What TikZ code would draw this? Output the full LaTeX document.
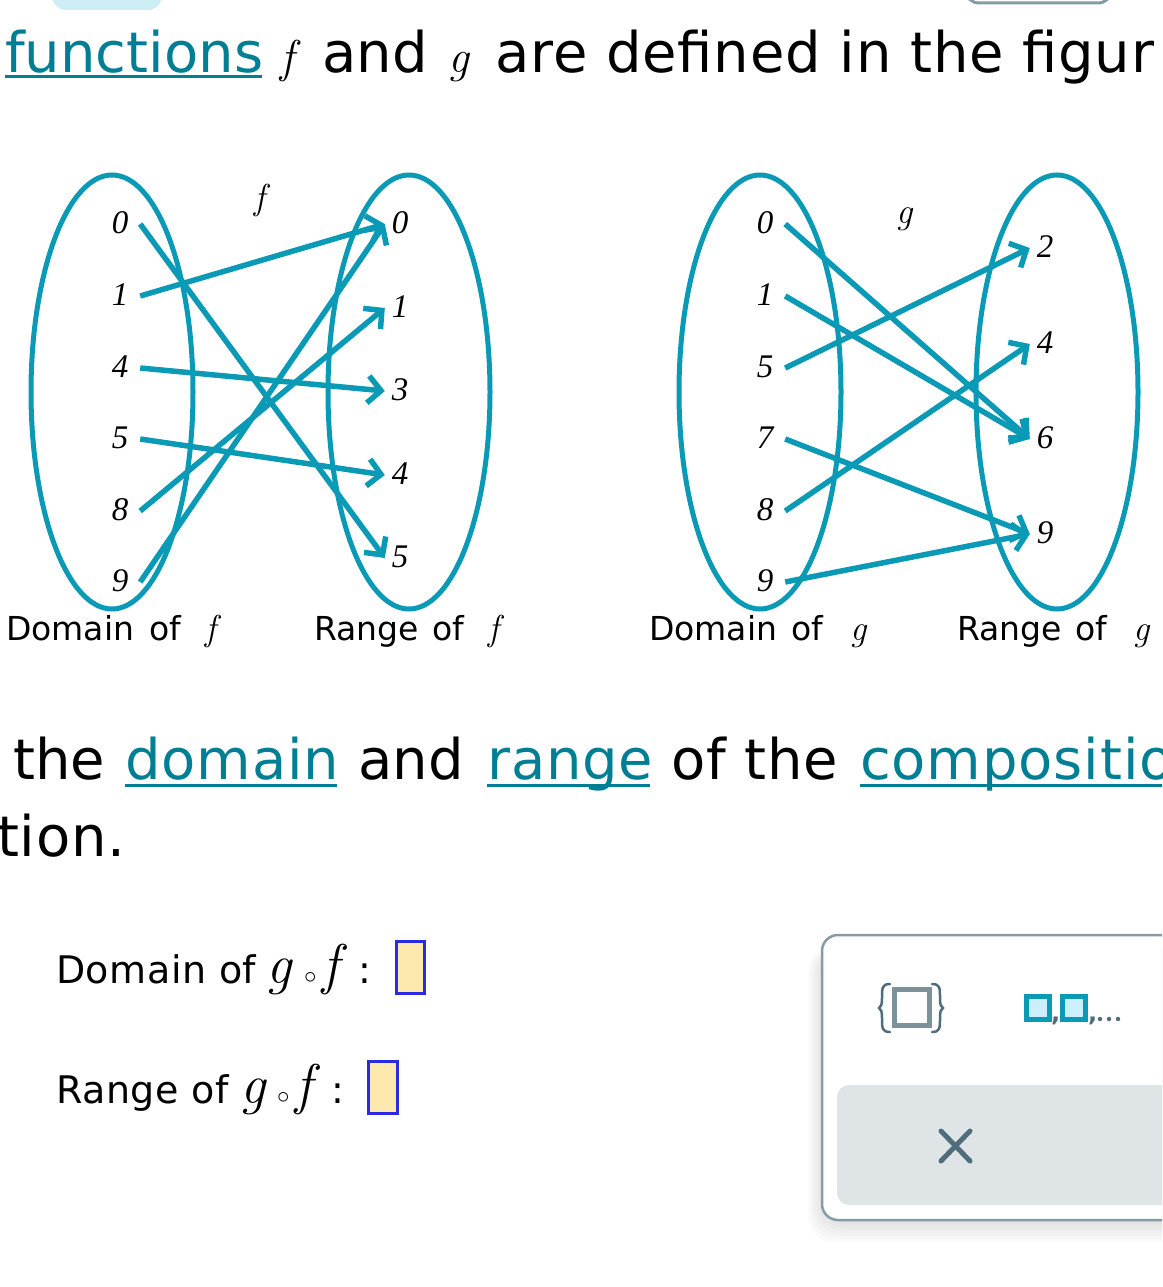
\documentclass[tikz,border=0pt]{standalone}
\usepackage{fontspec}
\usetikzlibrary{arrows.meta}
\setmainfont{DejaVu Sans}
\newfontfamily\myserif{Liberation Serif}
\newfontfamily\lmrm{Latin Modern Roman}
\newfontfamily\wider{DejaVu Sans}[LetterSpace=1.5]
\newcommand{\mi}[1]{{\myserif\itshape #1}}
\newcommand{\mv}[1]{{\lmrm\itshape #1}}
\definecolor{teal1}{HTML}{0A9AB5}
\definecolor{linkc}{HTML}{007F94}
\definecolor{panelc}{HTML}{869CA4}
\definecolor{iconc}{HTML}{4F6D7A}
\definecolor{answerfill}{HTML}{FDE8AE}
\definecolor{answerline}{HTML}{2A2AE0}
\definecolor{pillc}{HTML}{CDEEF4}
\tikzset{
 x=1pt,y=-1pt,
 big/.style={anchor=base west,inner sep=0pt,font=\fontsize{56}{60}\selectfont},
 bigw/.style={big,font=\fontsize{56}{60}\selectfont\wider},
 biglink/.style={big,text=linkc},
 biglinkw/.style={bigw,text=linkc},
 bigmath/.style={anchor=base west,inner sep=0pt,font=\fontsize{46}{50}\selectfont},
 small/.style={anchor=base west,inner sep=0pt,font=\fontsize{33}{36}\selectfont},
 smallm/.style={anchor=base west,inner sep=0pt,font=\fontsize{36}{40}\selectfont},
 mid/.style={anchor=base west,inner sep=0pt,font=\fontsize{38}{42}\selectfont\wider},
 midm/.style={anchor=base west,inner sep=0pt,font=\fontsize{56}{60}\selectfont},
 setring/.style={draw=teal1,line width=5pt},
 lab/.style={inner sep=0pt,font=\fontsize{33}{36}\selectfont,text height=22pt,text depth=4pt,align=center},
 fromlab/.style={lab,minimum width=40pt},
 tolab/.style={lab,minimum width=30pt},
 maparrow/.style={draw=teal1,line width=5.5pt,-{Straight Barb[length=13pt,width=27pt,line width=5.5pt]}},
 answer/.style={draw=answerline,fill=answerfill,line width=3pt},
}
\begin{document}
\begin{tikzpicture}
\useasboundingbox (0,0) rectangle (1162,1287);
\clip (0,0) rectangle (1162,1287);
% top strip
\fill[pillc,rounded corners=14pt] (52,-30) rectangle (162,10);
\draw[panelc,line width=3pt,rounded corners=14pt] (965,-30) rectangle (1112,3);
% first line
\node[biglink] (t1) at (5,73) {functions};
\draw[linkc,line width=3pt] (t1.base west)++(0,4) -- ++(257,0);
\node[bigmath] (t2) at (280,73) {\mv{f}};
\node[big] (t3) at (322,73) {and};
\node[bigmath] (t4) at (448,73) {\mv{g}};
\node[bigw] (t5) at (495,73) {are defined in the figur};
% rings
\draw[setring] (112,392) ellipse[x radius=81,y radius=217];
\draw[setring] (409,392) ellipse[x radius=81,y radius=217];
\draw[setring] (760,392) ellipse[x radius=81,y radius=217];
\draw[setring] (1057,392) ellipse[x radius=81,y radius=217];
% f
\node[fromlab] (fa) at (120,224) {\mi{0}};
\node[fromlab] (fb) at (120,296) {\mi{1}};
\node[fromlab] (fc) at (120,368) {\mi{4}};
\node[fromlab] (fd) at (120,439) {\mi{5}};
\node[fromlab] (fe) at (120,511) {\mi{8}};
\node[fromlab] (ff) at (120,582) {\mi{9}};
\node[tolab] (fp) at (400,224) {\mi{0}};
\node[tolab] (fq) at (400,308) {\mi{1}};
\node[tolab] (fr) at (400,391) {\mi{3}};
\node[tolab] (fs) at (400,475) {\mi{4}};
\node[tolab] (ft) at (400,558) {\mi{5}};
\node[lab,font=\fontsize{36}{40}\selectfont] (fn) at (260,200) {\mv{f}};
\draw[maparrow] (fb.east) -- (fp.west);
\draw[maparrow] (fa.east) -- (ft.west);
\draw[maparrow] (fc.east) -- (fr.west);
\draw[maparrow] (fd.east) -- (fs.west);
\draw[maparrow] (fe.east) -- (fq.west);
\draw[maparrow] (ff.east) -- (fp.west);
% g
\node[fromlab] (ga) at (765,224) {\mi{0}};
\node[fromlab] (gb) at (765,296) {\mi{1}};
\node[fromlab] (gc) at (765,368) {\mi{5}};
\node[fromlab] (gd) at (765,439) {\mi{7}};
\node[fromlab] (ge) at (765,511) {\mi{8}};
\node[fromlab] (gf) at (765,582) {\mi{9}};
\node[tolab] (gp) at (1045,248) {\mi{2}};
\node[tolab] (gq) at (1045,344) {\mi{4}};
\node[tolab] (gr) at (1045,439) {\mi{6}};
\node[tolab] (gs) at (1045,534) {\mi{9}};
\node[lab,font=\fontsize{36}{40}\selectfont] (gn) at (905,214) {\mv{g}};
\draw[maparrow] (ga.east) -- (gr.west);
\draw[maparrow] (gb.east) -- (gr.west);
\draw[maparrow] (gc.east) -- (gp.west);
\draw[maparrow] (gd.east) -- (gs.west);
\draw[maparrow] (ge.east) -- (gq.west);
\draw[maparrow] (gf.east) -- (gs.west);
% captions
\node[small] (c1) at (6,640) {Domain};
\node[small] (c2) at (149,640) {of};
\node[smallm] (c3) at (205,640) {\mv{f}};
\node[small] (c4) at (314,640) {Range};
\node[small] (c5) at (432,640) {of};
\node[smallm] (c6) at (488,640) {\mv{f}};
\node[small] (c7) at (649,640) {Domain};
\node[small] (c8) at (791,640) {of};
\node[smallm] (c9) at (850,640) {\mv{g}};
\node[small] (c10) at (957,640) {Range};
\node[small] (c11) at (1075,640) {of};
\node[smallm] (c12) at (1133,640) {\mv{g}};
% second paragraph
\node[big] (s1) at (13,779) {the};
\node[biglinkw] (s2) at (125,779) {domain};
\draw[linkc,line width=3pt] (s2.base west)++(0,6) -- ++(212,0);
\node[big] (s3) at (358,779) {and};
\node[biglinkw] (s4) at (487,779) {range};
\draw[linkc,line width=3pt] (s4.base west)++(0,6) -- ++(163,0);
\node[bigw] (s5) at (671,779) {of the};
\node[biglinkw] (s6) at (860,779) {compositio};
\draw[linkc,line width=3pt] (s6.base west)++(0,6) -- ++(310,0);
\node[bigw] (s7) at (-3,856) {tion.};
% answers
\node[mid] (d1) at (56,983) {Domain of};
\node[midm] (d2) at (266,983) {\mv{g}};
\node[anchor=base west,inner sep=0pt,font=\fontsize{26}{28}\selectfont] (d3) at (304,983) {$\circ$};
\node[midm] (d4) at (322,983) {\mv{f}};
\node[mid] (d5) at (358,983) {:};
\draw[answer] (396,941) rectangle (424,993);
\node[mid] (r1) at (56,1103) {Range of};
\node[midm] (r2) at (240,1103) {\mv{g}};
\node[anchor=base west,inner sep=0pt,font=\fontsize{26}{28}\selectfont] (r3) at (277,1103) {$\circ$};
\node[midm] (r4) at (295,1103) {\mv{f}};
\node[mid] (r5) at (331,1103) {:};
\draw[answer] (368,1061) rectangle (397,1113);
% panel
\foreach \s in {20,17,14,11,8,5,2}{
 \fill[black,opacity=0.014,rounded corners=24pt] (822-0.7*\s,948) rectangle (1200,1222+\s);
}
\draw[panelc,fill=white,line width=2.5pt,rounded corners=16pt] (822,935) rectangle (1200,1220);
\fill[iconc!18!white,rounded corners=12pt] (837,1085) rectangle (1200,1205);
\draw[iconc,line width=5pt,line cap=round] (941,1131) -- (970,1161) (970,1131) -- (941,1161);
\draw[iconc!75!white,line width=5pt] (894,989) rectangle (929,1025);
\draw[iconc,line width=2.5pt,line cap=round] (890,984) .. controls (882,984) and (882,988) .. (882,998) .. controls (882,1005) and (881,1007) .. (879,1008) .. controls (881,1009) and (882,1011) .. (882,1018) .. controls (882,1028) and (882,1032) .. (890,1032);
\draw[iconc,line width=2.5pt,line cap=round] (932,984) .. controls (940,984) and (940,988) .. (940,998) .. controls (940,1005) and (941,1007) .. (943,1008) .. controls (941,1009) and (940,1011) .. (940,1018) .. controls (940,1028) and (940,1032) .. (932,1032);
\draw[teal1,fill=cyan!20!white,line width=5pt] (1026,996) rectangle (1049,1019);
\draw[teal1,fill=cyan!20!white,line width=5pt] (1062,996) rectangle (1085,1019);
\node[anchor=base west,inner sep=0pt,text=iconc,font=\fontsize{24}{26}\selectfont\bfseries] (i1) at (1051,1021) {,};
\node[anchor=base west,inner sep=0pt,text=iconc,font=\fontsize{24}{26}\selectfont\bfseries] (i2) at (1088,1021) {,};
\foreach \xx in {1100,1109,1118}{\fill[iconc] (\xx,1019) circle[radius=2.2];}
\end{tikzpicture}
\end{document}
